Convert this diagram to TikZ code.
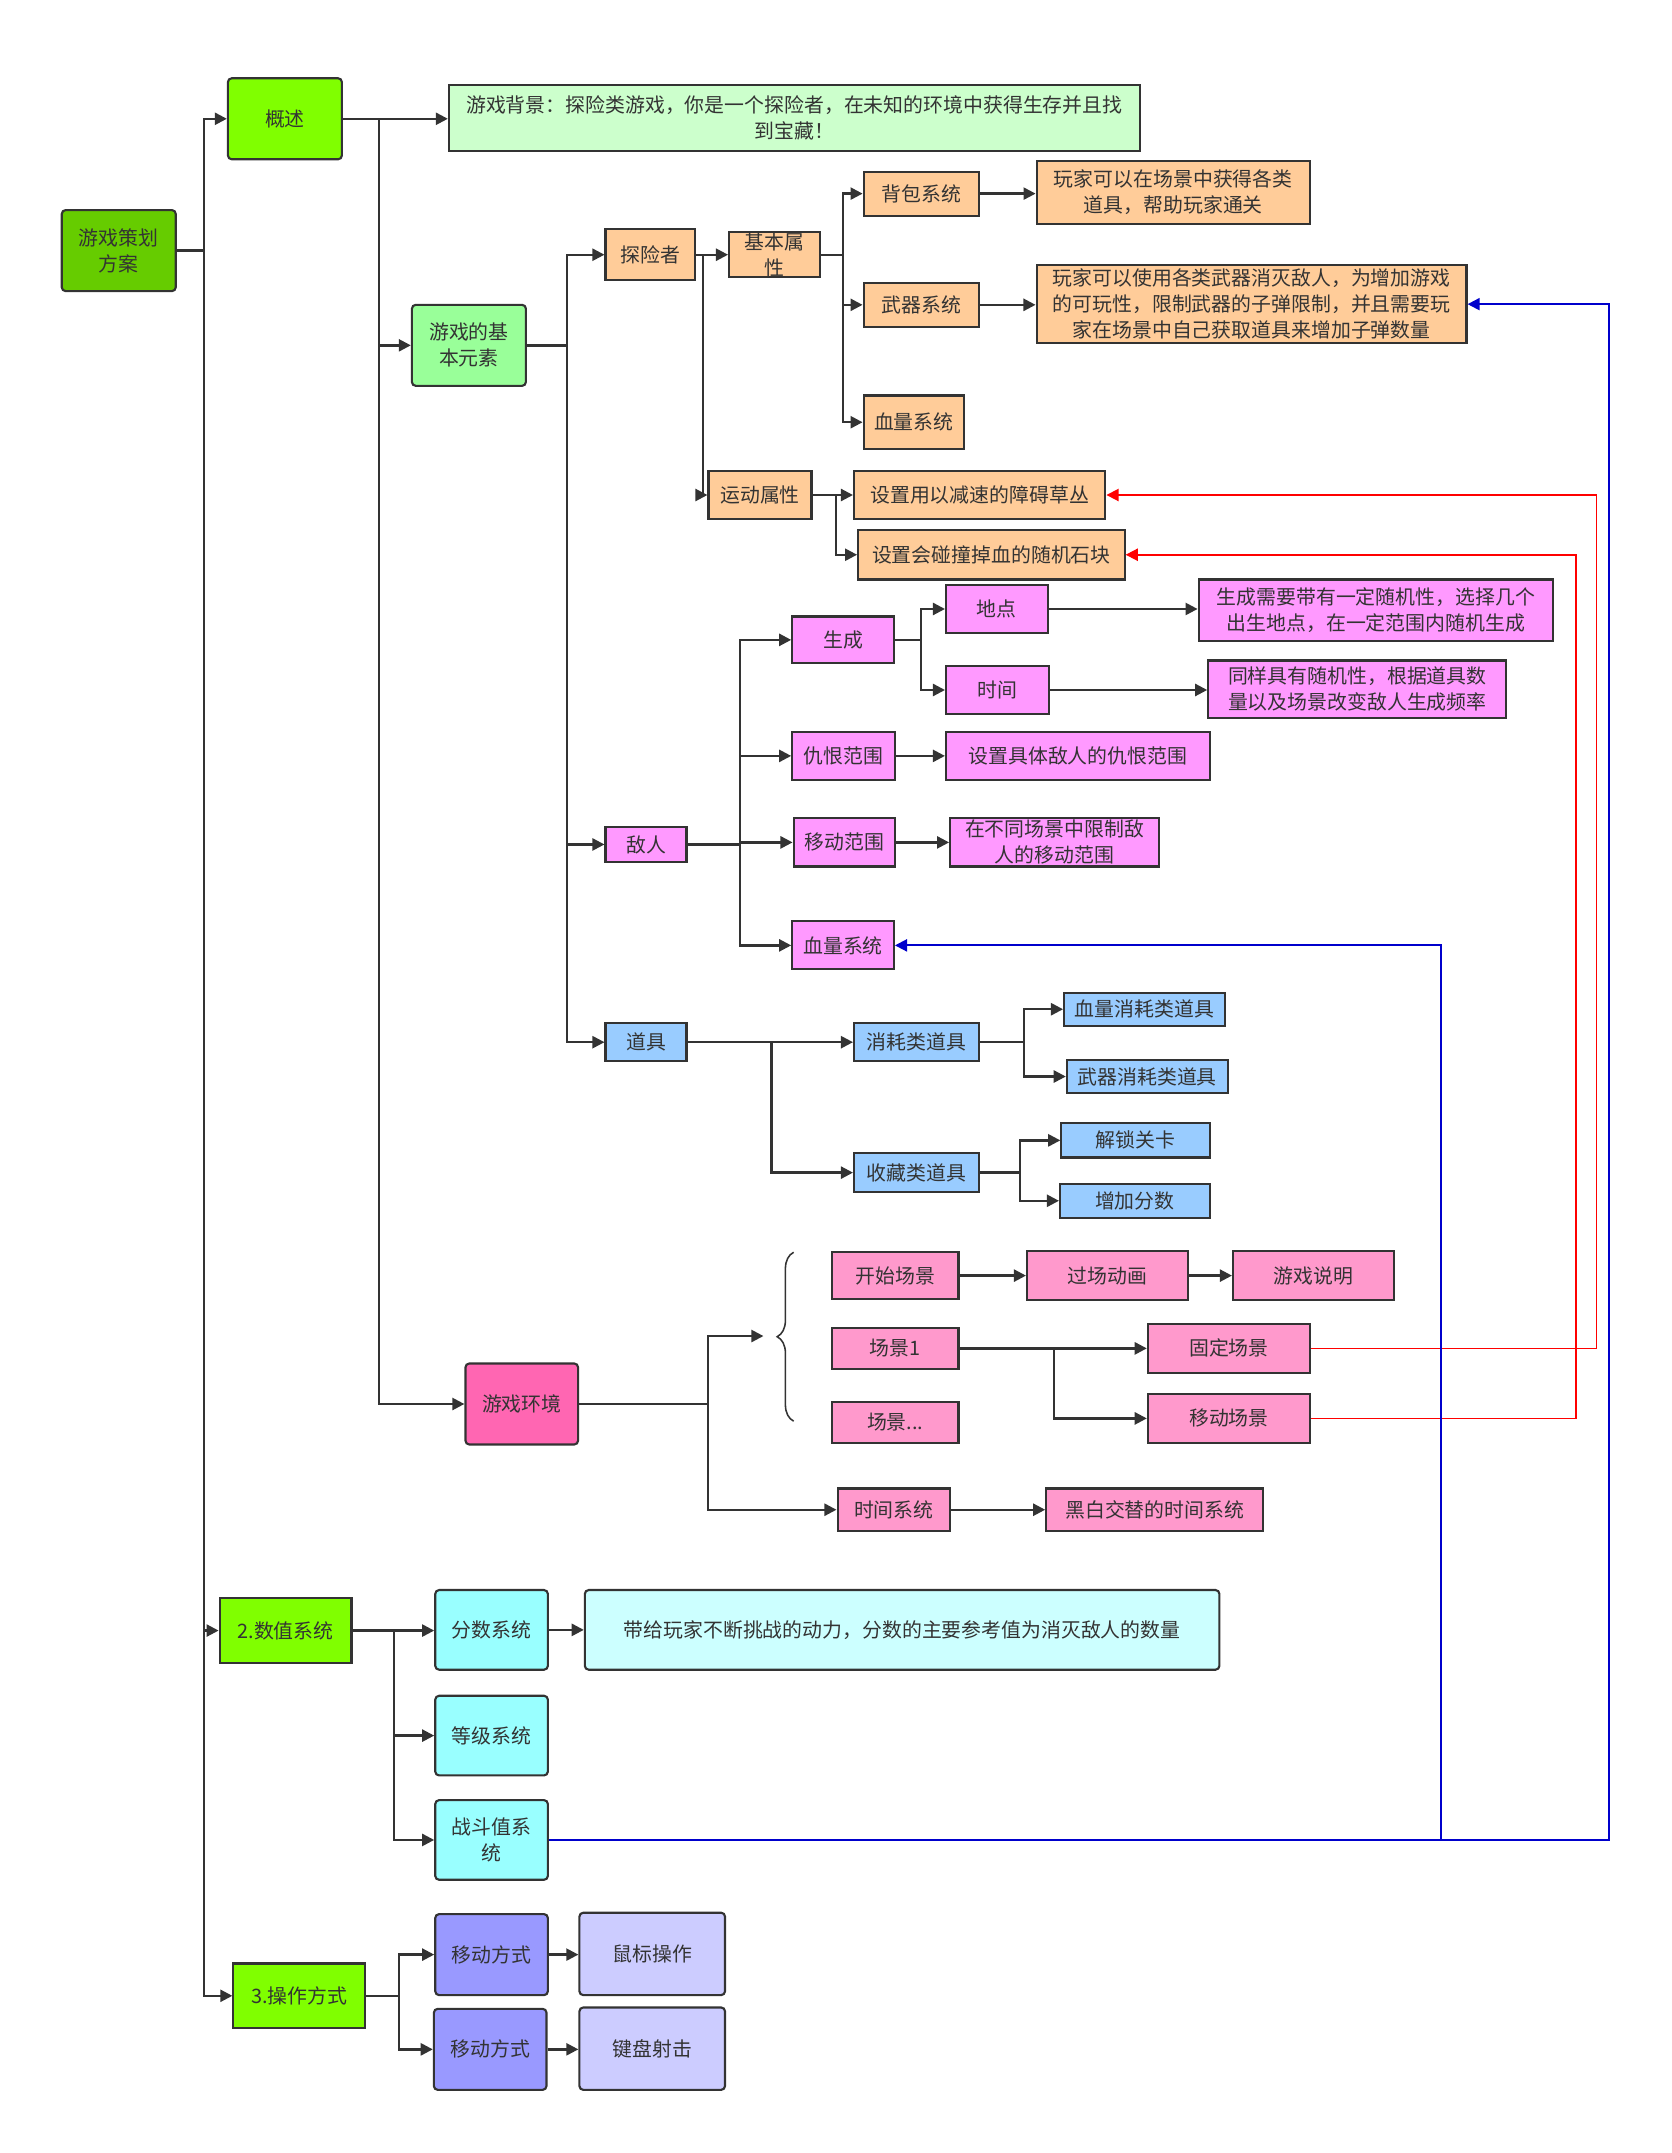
\documentclass[tikz,border=0pt]{standalone}
\usepackage{fontspec}
\newfontfamily\cjk{Noto Sans CJK SC}
\usetikzlibrary{arrows.meta,decorations.pathreplacing}

\definecolor{ink}{HTML}{333333}
\definecolor{rootgreen}{HTML}{66CC00}
\definecolor{lime}{HTML}{80FF00}
\definecolor{palegreen}{HTML}{CCFFCC}
\definecolor{midgreen}{HTML}{99FF99}
\definecolor{peach}{HTML}{FFCC99}
\definecolor{enemypink}{HTML}{FF99FF}
\definecolor{skyblue}{HTML}{99CCFF}
\definecolor{rosepink}{HTML}{FF99CC}
\definecolor{hotpink}{HTML}{FF66B2}
\definecolor{aqua}{HTML}{99FFFF}
\definecolor{paleaqua}{HTML}{CCFFFF}
\definecolor{lavender}{HTML}{9999FF}
\definecolor{palelav}{HTML}{CCCCFF}
\definecolor{linkred}{HTML}{FF0000}
\definecolor{linkblue}{HTML}{0000CC}

\tikzset{
    box/.style={draw=ink, line width=1.1pt, text=ink, align=center, inner sep=1pt,
        font=\cjk\fontsize{10.3}{13.5}\selectfont},
    rbox/.style={box, rounded corners=2pt},
    sz/.style 2 args={minimum width=#1cm, minimum height=#2cm},
    arr/.style={draw=ink, line width=1.2pt, -{Triangle[length=2.2mm,width=2.2mm]}},
    redlink/.style={draw=linkred, line width=0.9pt, -{Triangle[length=2.2mm,width=2.2mm]}},
    bluelink/.style={draw=linkblue, line width=1pt, -{Triangle[length=2.2mm,width=2.2mm]}}
}

\begin{document}
\begin{tikzpicture}[x=0.025cm, y=-0.025cm]
    % Page
    \fill[white] (0,0) rectangle (1217,1568);
    \useasboundingbox (0,0) rectangle (1217,1568);

    % Root and overview
    \node[rbox, fill=rootgreen, sz={2.075}{1.475}] (root) at (86.5,182.5) {游戏策划\\方案};
    \node[rbox, fill=lime, sz={2.075}{1.475}] (ovw) at (207.5,86.5) {概述};
    \node[box, fill=palegreen, sz={12.575}{1.2}] (bg) at (578.5,86) {游戏背景：探险类游戏，你是一个探险者，在未知的环境中获得生存并且找\\到宝藏！};
    \node[rbox, fill=midgreen, sz={2.075}{1.475}] (elem) at (341.5,251.5) {游戏的基\\本元素};

    % Explorer
    \node[box, fill=peach, sz={1.625}{0.925}] (expl) at (473.5,185.5) {探险者};
    \node[box, fill=peach, sz={1.65}{0.825}, inner ysep=0pt] (basic) at (564,185.5) {基本属\\性};
    \node[box, fill=peach, sz={2.1}{0.8}] (bag) at (671,141) {背包系统};
    \node[box, fill=peach, sz={4.975}{1.15}] (bagtxt) at (854.5,140) {玩家可以在场景中获得各类\\道具，帮助玩家通关};
    \node[box, fill=peach, sz={2.1}{0.8}] (weap) at (671,222) {武器系统};
    \node[box, fill=peach, sz={7.825}{1.425}] (weaptxt) at (911.5,221.5) {玩家可以使用各类武器消灭敌人，为增加游戏\\的可玩性，限制武器的子弹限制，并且需要玩\\家在场景中自己获取道具来增加子弹数量};
    \node[box, fill=peach, sz={1.825}{0.975}] (hp1) at (665.5,307.5) {血量系统};
    \node[box, fill=peach, sz={1.875}{0.875}] (move) at (553.5,360.5) {运动属性};
    \node[box, fill=peach, sz={4.575}{0.875}] (grass) at (713.5,360.5) {设置用以减速的障碍草丛};
    \node[box, fill=peach, sz={4.85}{0.9}] (stone) at (722,404) {设置会碰撞掉血的随机石块};

    % Enemy
    \node[box, fill=enemypink, sz={1.475}{0.65}] (enemy) at (470.5,615) {敌人};
    \node[box, fill=enemypink, sz={1.85}{0.85}] (spawn) at (614,466) {生成};
    \node[box, fill=enemypink, sz={1.85}{0.875}] (place) at (726,443.5) {地点};
    \node[box, fill=enemypink, sz={6.45}{1.125}] (placetxt) at (1002,444.5) {生成需要带有一定随机性，选择几个\\出生地点，在一定范围内随机生成};
    \node[box, fill=enemypink, sz={1.875}{0.875}] (time) at (726.5,502.5) {时间};
    \node[box, fill=enemypink, sz={5.425}{1.05}] (timetxt) at (988.5,502) {同样具有随机性，根据道具数\\量以及场景改变敌人生成频率};
    \node[box, fill=enemypink, sz={1.875}{0.875}] (hate) at (614.5,550.5) {仇恨范围};
    \node[box, fill=enemypink, sz={4.8}{0.875}] (hatetxt) at (785,550.5) {设置具体敌人的仇恨范围};
    \node[box, fill=enemypink, sz={1.85}{0.875}] (range) at (615,613.5) {移动范围};
    \node[box, fill=enemypink, sz={3.8}{0.875}, inner ysep=0pt] (rangetxt) at (768,613.5) {在不同场景中限制敌\\人的移动范围};
    \node[box, fill=enemypink, sz={1.85}{0.875}] (hp2) at (614,688.5) {血量系统};

    % Items
    \node[box, fill=skyblue, sz={1.475}{0.7}] (prop) at (470.5,759) {道具};
    \node[box, fill=skyblue, sz={2.275}{0.7}] (cons) at (667.5,759) {消耗类道具};
    \node[box, fill=skyblue, sz={2.925}{0.6}] (cons1) at (833.5,735) {血量消耗类道具};
    \node[box, fill=skyblue, sz={2.925}{0.6}] (cons2) at (835.5,784) {武器消耗类道具};
    \node[box, fill=skyblue, sz={2.275}{0.7}] (coll) at (667.5,854) {收藏类道具};
    \node[box, fill=skyblue, sz={2.7}{0.625}] (coll1) at (827,830.5) {解锁关卡};
    \node[box, fill=skyblue, sz={2.725}{0.625}] (coll2) at (826.5,874.5) {增加分数};

    % Environment
    \node[rbox, fill=hotpink, sz={2.05}{1.475}] (env) at (380,1022.5) {游戏环境};
    \node[box, fill=rosepink, sz={2.3}{0.85}] (start) at (652,929) {开始场景};
    \node[box, fill=rosepink, sz={2.925}{0.9}] (anim) at (806.5,929) {过场动画};
    \node[box, fill=rosepink, sz={2.925}{0.9}] (help) at (956.5,929) {游戏说明};
    \node[box, fill=rosepink, sz={2.3}{0.75}] (sc1) at (652,982) {场景1};
    \node[box, fill=rosepink, sz={2.3}{0.75}] (scn) at (652,1036) {场景...};
    \node[box, fill=rosepink, sz={2.95}{0.9}] (fixed) at (895,982) {固定场景};
    \node[box, fill=rosepink, sz={2.95}{0.9}] (moving) at (895,1033) {移动场景};
    \node[box, fill=rosepink, sz={2.05}{0.775}] (tsys) at (651,1099.5) {时间系统};
    \node[box, fill=rosepink, sz={3.95}{0.775}] (bw) at (841,1099.5) {黑白交替的时间系统};
    \draw[ink, line width=0.8pt, decorate, decoration={brace, amplitude=0.3cm}] (578,1035) -- (578,912);
    \coordinate (brc) at (556,973);

    % Numeric system
    \node[box, fill=lime, sz={2.4}{1.175}] (num) at (208,1187.5) {2.数值系统};
    \node[rbox, fill=aqua, sz={2.05}{1.45}] (score) at (358,1187) {分数系统};
    \node[rbox, fill=paleaqua, sz={11.55}{1.45}] (scoretxt) at (657,1187) {带给玩家不断挑战的动力，分数的主要参考值为消灭敌人的数量};
    \node[rbox, fill=aqua, sz={2.05}{1.45}] (level) at (358,1264) {等级系统};
    \node[rbox, fill=aqua, sz={2.05}{1.45}] (fight) at (358,1340) {战斗值系\\统};

    % Controls
    \node[box, fill=lime, sz={2.4}{1.175}] (op) at (218,1453.5) {3.操作方式};
    \node[rbox, fill=lavender, sz={2.05}{1.475}] (mv1) at (358,1423.5) {移动方式};
    \node[rbox, fill=palelav, sz={2.65}{1.5}] (mouse) at (475,1423) {鼠标操作};
    \node[rbox, fill=lavender, sz={2.05}{1.475}] (mv2) at (357,1492.5) {移动方式};
    \node[rbox, fill=palelav, sz={2.65}{1.5}] (key) at (475,1492) {键盘射击};

    % Draw the tree connectors
    \foreach \t in {ovw,num,op}
        \draw[arr] (root.east) -- ++(20,0) |- (\t.west);
    \draw[arr] (ovw.east) -- (ovw.east -| bg.west);
    \foreach \t in {elem,env}
        \draw[arr] (ovw.east) -- ++(26,0) |- (\t.west);
    \foreach \t in {expl,enemy,prop}
        \draw[arr] (elem.east) -- ++(29,0) |- (\t.west);

    % explorer branch
    \draw[arr] (expl.east) -- (basic.west);
    \draw[arr] (expl.east) -- ++(5,0) |- (move.west);
    \foreach \t in {bag,weap,hp1}
        \draw[arr] (basic.east) -- ++(16,0) |- (\t.west);
    \draw[arr] (bag.east) -- (bag.east -| bagtxt.west);
    \draw[arr] (weap.east) -- (weap.east -| weaptxt.west);
    \foreach \t in {grass,stone}
        \draw[arr] (move.east) -- ++(17,0) |- (\t.west);

    % enemy branch
    \foreach \t in {spawn,hate,range,hp2}
        \draw[arr] (enemy.east) -- ++(38,0) |- (\t.west);
    \foreach \t in {place,time}
        \draw[arr] (spawn.east) -- ++(19,0) |- (\t.west);
    \draw[arr] (place.east) -- (place.east -| placetxt.west);
    \draw[arr] (time.east) -- (time.east -| timetxt.west);
    \draw[arr] (hate.east) -- (hatetxt.west);
    \draw[arr] (range.east) -- (rangetxt.west);

    % item branch
    \draw[arr] (prop.east) -- (cons.west);
    \draw[arr] (prop.east) -- ++(61,0) |- (coll.west);
    \foreach \t in {cons1,cons2}
        \draw[arr] (cons.east) -- ++(32,0) |- (\t.west);
    \foreach \t in {coll1,coll2}
        \draw[arr] (coll.east) -- ++(29,0) |- (\t.west);

    % environment branch
    \draw[arr] (env.east) -- ++(94,0) |- (brc);
    \draw[arr] (env.east) -- ++(94,0) |- (tsys.west);
    \draw[arr] (start.east) -- (start.east -| anim.west);
    \draw[arr] (anim.east) -- (help.west);
    \draw[arr] (sc1.east) -- (fixed.west);
    \draw[arr] (sc1.east) -- ++(69,0) |- (moving.west);
    \draw[arr] (tsys.east) -- (bw.west);

    % numeric and control branches
    \draw[arr] (num.east) -- (num.east -| score.west);
    \foreach \t in {level,fight}
        \draw[arr] (num.east) -- ++(30,0) |- (\t.west);
    \draw[arr] (score.east) -- (scoretxt.west);
    \foreach \t in {mv1,mv2}
        \draw[arr] (op.east) -- ++(24,0) |- (\t.west);
    \draw[arr] (mv1.east) -- (mv1.east -| mouse.west);
    \draw[arr] (mv2.east) -- (mv2.east -| key.west);

    % Cross links
    \draw[redlink] (fixed.east) -- ++(208,0) |- (grass.east);
    \draw[redlink] (moving.east) -- ++(193,0) |- (stone.east);
    \draw[bluelink] (fight.east) -- ++(772,0) |- (weaptxt.east);
    \draw[bluelink] (fight.east) -- ++(650,0) |- (hp2.east);
\end{tikzpicture}
\end{document}
